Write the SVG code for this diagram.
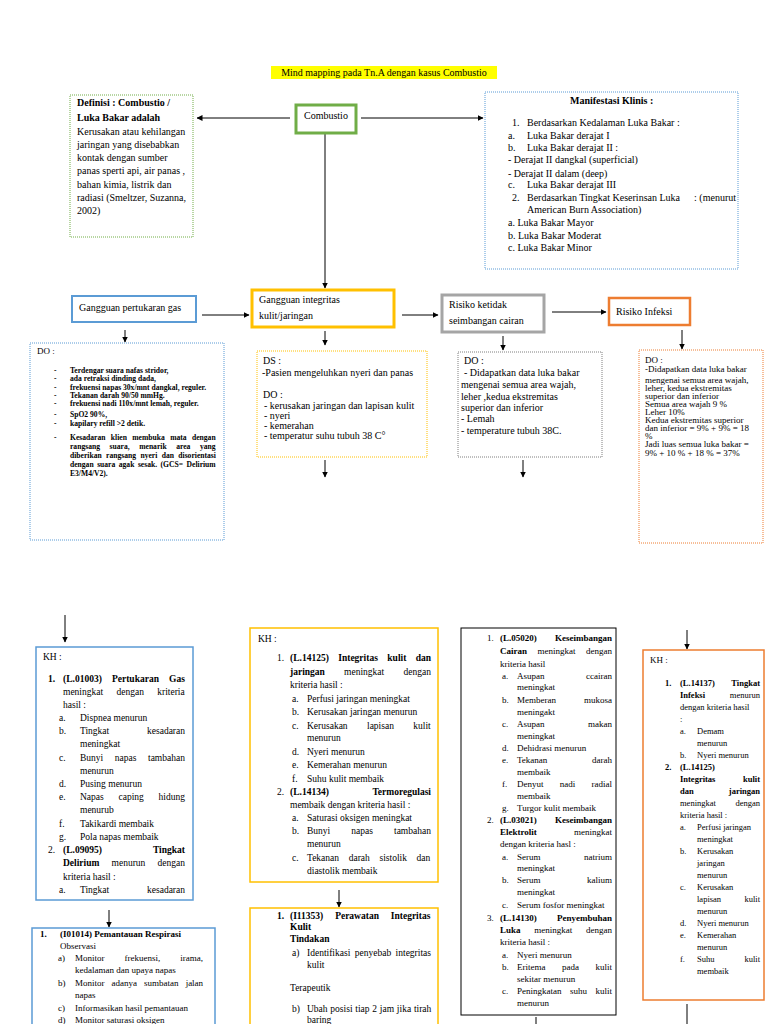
<svg xmlns="http://www.w3.org/2000/svg" width="768" height="1024" viewBox="0 0 768 1024">
<style>
text{font-family:"Liberation Serif","Times New Roman",serif;fill:#000;font-size:9.5px}
.s10{font-size:10px}
.s9{font-size:9px}
.s85{font-size:8.5px}
.s7{font-size:7.6px;font-weight:bold}
.b{font-weight:bold}
.e{text-anchor:end}
.ln{stroke:#000;stroke-width:1;fill:none}
.a{marker-end:url(#ah)}
.dot{fill:#fff;stroke-width:1;stroke-dasharray:1 1}
.box{fill:#fff}
</style>
<defs>
<marker id="ah" markerWidth="6" markerHeight="6" refX="5.5" refY="3" orient="auto" markerUnits="userSpaceOnUse"><path d="M0,0 L6,3 L0,6 z" fill="#000"/></marker>
</defs>
<rect width="768" height="1024" fill="#fff"/>

<g id="title">
<rect x="271" y="66" width="226" height="13" fill="#ffff00"/>
<text class="s10" x="384" y="76" text-anchor="middle">Mind mapping pada Tn.A dengan kasus Combustio</text>
</g>

<g id="connectors">
<line class="ln a" x1="290" y1="118" x2="197" y2="118"/>
<line class="ln a" x1="361" y1="118" x2="483" y2="118"/>
<line class="ln a" x1="325" y1="134" x2="325" y2="288"/>
<line class="ln a" x1="202" y1="315" x2="249" y2="315"/>
<line class="ln a" x1="402" y1="315" x2="438" y2="315"/>
<line class="ln a" x1="552" y1="312" x2="606" y2="312"/>
<line class="ln a" x1="125" y1="330" x2="125" y2="342"/>
<line class="ln a" x1="325" y1="331" x2="325" y2="345"/>
<line class="ln a" x1="503" y1="336" x2="503" y2="350"/>
<line class="ln a" x1="682" y1="330" x2="682" y2="349"/>
<line class="ln a" x1="325" y1="460" x2="325" y2="477"/>
<line class="ln a" x1="523" y1="460" x2="523" y2="477"/>
<line class="ln a" x1="65" y1="615" x2="65" y2="642"/>
<line class="ln a" x1="687" y1="630" x2="687" y2="649"/>
<line class="ln a" x1="109" y1="910" x2="109" y2="927"/>
<line class="ln a" x1="339" y1="890" x2="339" y2="907"/>
<line class="ln" x1="536" y1="1017" x2="536" y2="1024"/>
<line class="ln" x1="687" y1="1004" x2="687" y2="1024"/>
</g>

<g id="definisi">
<rect class="dot" x="70" y="95" width="123" height="142" stroke="#70ad47"/>
<text class="s10 b" x="77" y="106">Definisi : Combustio /</text>
<text class="s10 b" x="77" y="121">Luka Bakar adalah</text>
<text class="s10" x="77" y="135">Kerusakan atau kehilangan</text>
<text class="s10" x="77" y="148">jaringan yang disebabkan</text>
<text class="s10" x="77" y="161">kontak dengan sumber</text>
<text class="s10" x="77" y="174">panas sperti api, air panas ,</text>
<text class="s10" x="77" y="188">bahan kimia, listrik dan</text>
<text class="s10" x="77" y="201">radiasi (Smeltzer, Suzanna,</text>
<text class="s10" x="77" y="214">2002)</text>
</g>

<g id="combustio">
<rect x="296" y="105" width="60" height="28" fill="#fff" stroke="#70ad47" stroke-width="3"/>
<text class="s10" x="304" y="119">Combustio</text>
</g>

<g id="manifestasi">
<rect class="dot" x="485" y="92" width="253" height="177" stroke="#5b9bd5"/>
<text class="s10 b" x="570" y="104">Manifestasi Klinis :</text>
<text class="s10" x="512" y="126">1.</text><text class="s10" x="527" y="126">Berdasarkan Kedalaman Luka Bakar :</text>
<text class="s10" x="508" y="139">a.</text><text class="s10" x="527" y="139">Luka Bakar derajat I</text>
<text class="s10" x="508" y="151">b.</text><text class="s10" x="527" y="151">Luka Bakar derajat II :</text>
<text class="s10" x="508" y="163">- Derajat II dangkal (superficial)</text>
<text class="s10" x="508" y="177">- Derajat II dalam (deep)</text>
<text class="s10" x="508" y="188">c.</text><text class="s10" x="527" y="188">Luka Bakar derajat III</text>
<text class="s10" x="512" y="201">2.</text><text class="s10" x="527" y="201">Berdasarkan Tingkat Keserinsan Luka</text><text class="s10 e" x="736" y="201">: (menurut</text>
<text class="s10" x="527" y="213">American Burn Association)</text>
<text class="s10" x="508" y="226">a. Luka Bakar Mayor</text>
<text class="s10" x="508" y="239">b. Luka Bakar Moderat</text>
<text class="s10" x="508" y="251">c. Luka Bakar Minor</text>
</g>

<g id="gangguan-pertukaran-gas">
<rect x="72" y="296" width="124" height="26" fill="#fff" stroke="#5b9bd5" stroke-width="2"/>
<text class="s10" x="79" y="311">Gangguan pertukaran gas</text>
</g>
<g id="gangguan-integritas">
<rect x="252" y="290" width="142" height="37" fill="#fff" stroke="#ffc000" stroke-width="3"/>
<text class="s10" x="259" y="303">Gangguan integritas</text>
<text class="s10" x="259" y="319">kulit/jaringan</text>
</g>
<g id="risiko-cairan">
<rect x="442" y="295" width="102" height="37" fill="#fff" stroke="#a5a5a5" stroke-width="3"/>
<text class="s10" x="449" y="308">Risiko ketidak</text>
<text class="s10" x="449" y="324">seimbangan cairan</text>
</g>
<g id="risiko-infeksi">
<rect x="609" y="298" width="81" height="27" fill="#fff" stroke="#ed7d31" stroke-width="2.5"/>
<text class="s10" x="616" y="315">Risiko Infeksi</text>
</g>

<g id="do-gas">
<rect class="dot" x="30" y="343" width="194" height="197" stroke="#5b9bd5"/>
<text class="s9" x="37" y="354">DO :</text>
<text class="s7" x="54" y="373">-</text><text class="s7" x="70" y="373">Terdengar suara nafas stridor,</text>
<text class="s7" x="54" y="381">-</text><text class="s7" x="70" y="381">ada retraksi dinding dada,</text>
<text class="s7" x="54" y="390">-</text><text class="s7" x="70" y="390">frekuensi napas 30x/mnt dangkal, reguler.</text>
<text class="s7" x="54" y="398">-</text><text class="s7" x="70" y="398">Tekanan darah 90/50 mmHg.</text>
<text class="s7" x="54" y="406">-</text><text class="s7" x="70" y="406">frekuensi nadi 110x/mnt lemah, reguler.</text>
<text class="s7" x="54" y="417">-</text><text class="s7" x="70" y="417">SpO2 90%,</text>
<text class="s7" x="54" y="426">-</text><text class="s7" x="70" y="426">kapilary refill &gt;2 detik.</text>
<text class="s7" x="54" y="440">-</text><text class="s7" x="70" y="440" word-spacing="3.5">Kesadaran klien membuka mata dengan</text>
<text class="s7" x="70" y="449" word-spacing="7.7">rangsang suara, menarik area yang</text>
<text class="s7" x="70" y="458" word-spacing="2.5">diberikan rangsang nyeri dan disorientasi</text>
<text class="s7" x="70" y="467" word-spacing="1.6">dengan suara agak sesak. (GCS= Delirium</text>
<text class="s7" x="70" y="476">E3/M4/V2).</text>
</g>

<g id="ds-do-integritas">
<rect class="dot" x="257" y="351" width="170" height="106" stroke="#ffc000"/>
<text class="s10" x="263" y="364">DS :</text>
<text class="s10" x="262" y="376">-Pasien mengeluhkan nyeri dan panas</text>
<text class="s10" x="263" y="398">DO :</text>
<text class="s10" x="264" y="409">- kerusakan jaringan dan lapisan kulit</text>
<text class="s10" x="264" y="419">- nyeri</text>
<text class="s10" x="264" y="429">- kemerahan</text>
<text class="s10" x="264" y="439">- temperatur suhu tubuh 38  C°</text>
</g>

<g id="do-cairan">
<rect class="dot" x="458" y="352" width="144" height="105" stroke="#7f7f7f"/>
<text class="s10" x="464" y="364">DO :</text>
<text class="s10" x="464" y="376">- Didapatkan data luka bakar</text>
<text class="s10" x="461" y="388">mengenai semua area wajah,</text>
<text class="s10" x="461" y="400">leher ,kedua ekstremitas</text>
<text class="s10" x="461" y="411">superior dan inferior</text>
<text class="s10" x="461" y="422">- Lemah</text>
<text class="s10" x="461" y="434">- temperature tubuh 38C.</text>
</g>

<g id="do-infeksi">
<rect class="dot" x="639" y="350" width="124" height="193" stroke="#ed7d31"/>
<text class="s9" x="645" y="363">DO :</text>
<text class="s9" x="645" y="372">-Didapatkan data luka bakar</text>
<text class="s9" x="645" y="383">mengenai semua area wajah,</text>
<text class="s9" x="645" y="391">leher, kedua ekstremitas</text>
<text class="s9" x="645" y="399">superior dan inferior</text>
<text class="s9" x="645" y="407">Semua area wajah 9 %</text>
<text class="s9" x="645" y="415">Leher 10%</text>
<text class="s9" x="645" y="423">Kedua ekstremitas superior</text>
<text class="s9" x="645" y="431">dan inferior = 9% + 9% = 18</text>
<text class="s9" x="645" y="439">%</text>
<text class="s9" x="645" y="447">Jadi luas semua luka bakar =</text>
<text class="s9" x="645" y="456">9% + 10 % + 18 % = 37%</text>
</g>

<g id="kh-gas">
<rect class="box" x="36" y="647" width="157" height="253" stroke="#5b9bd5" stroke-width="1.5"/>
<text x="43" y="660">KH :</text>
<text class="b" x="48" y="682">1.</text><text class="b" x="63" y="682" word-spacing="7.8">(L.01003) Pertukaran Gas</text>
<text x="63" y="695" word-spacing="11">meningkat dengan kriteria</text>
<text x="63" y="708">hasil :</text>
<text x="59" y="721">a.</text><text x="80" y="721">Dispnea menurun</text>
<text x="59" y="734">b.</text><text x="80" y="734">Tingkat</text><text class="e" x="185" y="734">kesadaran</text>
<text x="80" y="747">meningkat</text>
<text x="59" y="761">c.</text><text x="80" y="761" word-spacing="9.2">Bunyi napas tambahan</text>
<text x="80" y="774">menurun</text>
<text x="59" y="787">d.</text><text x="80" y="787">Pusing menurun</text>
<text x="59" y="800">e.</text><text x="80" y="800" word-spacing="12.4">Napas caping hidung</text>
<text x="80" y="813">menurub</text>
<text x="59" y="827">f.</text><text x="80" y="827">Takikardi membaik</text>
<text x="59" y="840">g.</text><text x="80" y="840">Pola napas membaik</text>
<text x="48" y="853">2.</text><text class="b" x="63" y="853">(L.09095)</text><text class="b e" x="185" y="853">Tingkat</text>
<text x="63" y="866" word-spacing="9.8"><tspan class="b">Delirium</tspan> menurun dengan</text>
<text x="63" y="880">kriteria hasil :</text>
<text x="59" y="893">a.</text><text x="80" y="893">Tingkat</text><text class="e" x="185" y="893">kesadaran</text>
</g>

<g id="kh-integritas">
<rect class="box" x="250" y="628" width="188" height="254" stroke="#ffc000" stroke-width="1.5"/>
<text x="258" y="642">KH :</text>
<text x="277" y="661">1.</text><text class="b" x="290" y="661" word-spacing="7.1">(L.14125) Integritas kulit dan</text>
<text x="290" y="675" word-spacing="16.9"><tspan class="b">jaringan</tspan> meningkat dengan</text>
<text x="290" y="688">kriteria hasil :</text>
<text x="292" y="702">a.</text><text x="307" y="702">Perfusi jaringan meningkat</text>
<text x="292" y="715">b.</text><text x="307" y="715">Kerusakan jaringan menurun</text>
<text x="292" y="729">c.</text><text x="307" y="729" word-spacing="17">Kerusakan lapisan kulit</text>
<text x="307" y="741">menurun</text>
<text x="292" y="755">d.</text><text x="307" y="755">Nyeri menurun</text>
<text x="292" y="768">e.</text><text x="307" y="768">Kemerahan menurun</text>
<text x="292" y="782">f.</text><text x="307" y="782">Suhu kulit membaik</text>
<text x="277" y="795">2.</text><text class="b" x="290" y="795">(L.14134)</text><text class="b e" x="431" y="795">Termoregulasi</text>
<text x="290" y="808">membaik dengan kriteria hasil :</text>
<text x="292" y="821">a.</text><text x="307" y="821">Saturasi oksigen meningkat</text>
<text x="292" y="834">b.</text><text x="307" y="834" word-spacing="18.7">Bunyi napas tambahan</text>
<text x="307" y="847">menurun</text>
<text x="292" y="861">c.</text><text x="307" y="861" word-spacing="7.3">Tekanan darah sistolik dan</text>
<text x="307" y="874">diastolik membaik</text>
</g>

<g id="kh-cairan">
<rect class="box" x="461" y="628" width="155" height="387" stroke="#000" stroke-width="1"/>
<text class="s9" x="487" y="641">1.</text><text class="s9 b" x="500" y="641">(L.05020)</text><text class="s9 b e" x="612" y="641">Keseimbangan</text>
<text class="s9" x="500" y="654" word-spacing="8.3"><tspan class="b">Cairan</tspan> meningkat dengan</text>
<text class="s9" x="500" y="667">kriteria hasil</text>
<text class="s9" x="502" y="679">a.</text><text class="s9" x="517" y="679">Asupan</text><text class="s9 e" x="612" y="679">ccairan</text>
<text class="s9" x="517" y="690">meningkat</text>
<text class="s9" x="502" y="703">b.</text><text class="s9" x="517" y="703">Memberan</text><text class="s9 e" x="612" y="703">mukosa</text>
<text class="s9" x="517" y="715">meningakt</text>
<text class="s9" x="502" y="727">c.</text><text class="s9" x="517" y="727">Asupan</text><text class="s9 e" x="612" y="727">makan</text>
<text class="s9" x="517" y="739">meningkat</text>
<text class="s9" x="502" y="751">d.</text><text class="s9" x="517" y="751">Dehidrasi menurun</text>
<text class="s9" x="502" y="763">e.</text><text class="s9" x="517" y="763">Tekanan</text><text class="s9 e" x="612" y="763">darah</text>
<text class="s9" x="517" y="775">membaik</text>
<text class="s9" x="502" y="787">f.</text><text class="s9" x="517" y="787" word-spacing="14">Denyut nadi radial</text>
<text class="s9" x="517" y="799">membaik</text>
<text class="s9" x="502" y="811">g.</text><text class="s9" x="517" y="811">Turgor kulit membaik</text>
<text class="s9" x="487" y="823">2.</text><text class="s9 b" x="500" y="823">(L.03021)</text><text class="s9 b e" x="612" y="823">Keseimbangan</text>
<text class="s9 b" x="500" y="835">Elektrolit</text><text class="s9 e" x="612" y="835">meningkat</text>
<text class="s9" x="500" y="847">dengan kriteria hasl :</text>
<text class="s9" x="502" y="860">a.</text><text class="s9" x="517" y="860">Serum</text><text class="s9 e" x="612" y="860">natrium</text>
<text class="s9" x="517" y="871">meningkat</text>
<text class="s9" x="502" y="883">b.</text><text class="s9" x="517" y="883">Serum</text><text class="s9 e" x="612" y="883">kalium</text>
<text class="s9" x="517" y="895">meningkat</text>
<text class="s9" x="502" y="908">c.</text><text class="s9" x="517" y="908">Serum fosfor meningkat</text>
<text class="s9" x="487" y="921">3.</text><text class="s9 b" x="500" y="921">(L.14130)</text><text class="s9 b e" x="612" y="921">Penyembuhan</text>
<text class="s9" x="500" y="933" word-spacing="11.5"><tspan class="b">Luka</tspan> meningkat dengan</text>
<text class="s9" x="500" y="945">kriteria hasil :</text>
<text class="s9" x="502" y="958">a.</text><text class="s9" x="517" y="958">Nyeri menurun</text>
<text class="s9" x="502" y="970">b.</text><text class="s9" x="517" y="970" word-spacing="14.3">Eritema pada kulit</text>
<text class="s9" x="517" y="982">sekitar menurun</text>
<text class="s9" x="502" y="994">c.</text><text class="s9" x="517" y="994" word-spacing="6.3">Peningkatan suhu kulit</text>
<text class="s9" x="517" y="1006">menurun</text>
</g>

<g id="kh-infeksi">
<rect class="box" x="643" y="650" width="121" height="350" stroke="#ed7d31" stroke-width="1.5"/>
<text class="s9" x="650" y="663">KH :</text>
<text class="s85 b" x="665" y="686">1.</text><text class="s85 b" x="680" y="686">(L.14137)</text><text class="s85 b e" x="760" y="686">Tingkat</text>
<text class="s85 b" x="680" y="698">Infeksi</text><text class="s85 e" x="760" y="698">menurun</text>
<text class="s85" x="680" y="710">dengan kriteria hasil</text>
<text class="s85" x="680" y="722">:</text>
<text class="s85" x="680" y="734">a.</text><text class="s85" x="697" y="734">Demam</text>
<text class="s85" x="697" y="746">menurun</text>
<text class="s85" x="680" y="758">b.</text><text class="s85" x="697" y="758">Nyeri menurun</text>
<text class="s85 b" x="665" y="770">2.</text><text class="s85 b" x="680" y="770">(L.14125)</text>
<text class="s85 b" x="680" y="782">Integritas</text><text class="s85 b e" x="760" y="782">kulit</text>
<text class="s85 b" x="680" y="794">dan</text><text class="s85 b e" x="760" y="794">jaringan</text>
<text class="s85" x="680" y="806">meningkat</text><text class="s85 e" x="760" y="806">dengan</text>
<text class="s85" x="680" y="818">kriteria hasil :</text>
<text class="s85" x="680" y="830">a.</text><text class="s85" x="697" y="830">Perfusi jaringan</text>
<text class="s85" x="697" y="842">meningkat</text>
<text class="s85" x="680" y="854">b.</text><text class="s85" x="697" y="854">Kerusakan</text>
<text class="s85" x="697" y="866">jaringan</text>
<text class="s85" x="697" y="878">menurun</text>
<text class="s85" x="680" y="890">c.</text><text class="s85" x="697" y="890">Kerusakan</text>
<text class="s85" x="697" y="902">lapisan</text><text class="s85 e" x="760" y="902">kulit</text>
<text class="s85" x="697" y="914">menurun</text>
<text class="s85" x="680" y="926">d.</text><text class="s85" x="697" y="926">Nyeri menurun</text>
<text class="s85" x="680" y="938">e.</text><text class="s85" x="697" y="938">Kemerahan</text>
<text class="s85" x="697" y="950">menurun</text>
<text class="s85" x="680" y="962">f.</text><text class="s85" x="697" y="962">Suhu</text><text class="s85 e" x="760" y="962">kulit</text>
<text class="s85" x="697" y="974">membaik</text>
</g>

<g id="intervensi-respirasi">
<rect class="box" x="32" y="928" width="183" height="110" stroke="#5b9bd5" stroke-width="1.5"/>
<text class="s9 b" x="40" y="937">1.</text><text class="s9 b" x="60" y="937">(I01014) Pemantauan Respirasi</text>
<text class="s9" x="60" y="949">Observasi</text>
<text class="s9" x="58" y="961">a)</text><text class="s9" x="75" y="961" word-spacing="17.8">Monitor frekuensi, irama,</text>
<text class="s9" x="75" y="973">kedalaman dan upaya napas</text>
<text class="s9" x="58" y="986">b)</text><text class="s9" x="75" y="986" word-spacing="4.8">Monitor adanya sumbatan jalan</text>
<text class="s9" x="75" y="998">napas</text>
<text class="s9" x="58" y="1011">c)</text><text class="s9" x="75" y="1011">Informasikan hasil pemantauan</text>
<text class="s9" x="58" y="1023">d)</text><text class="s9" x="75" y="1023">Monitor saturasi oksigen</text>
</g>

<g id="intervensi-integritas">
<rect class="box" x="250" y="908" width="188" height="130" stroke="#ffc000" stroke-width="1.5"/>
<text class="b" x="277" y="919">1.</text><text class="b" x="290" y="919" word-spacing="9.5">(I11353) Perawatan Integritas</text>
<text class="b" x="290" y="930">Kulit</text>
<text class="b" x="290" y="942">Tindakan</text>
<text x="292" y="956">a)</text><text x="307" y="956" word-spacing="2.1">Identifikasi penyebab integritas</text>
<text x="307" y="968">kulit</text>
<text x="290" y="991">Terapeutik</text>
<text x="292" y="1012">b)</text><text x="307" y="1012" word-spacing="0.4">Ubah posisi tiap 2 jam jika tirah</text>
<text x="307" y="1023">baring</text>
</g>
</svg>
